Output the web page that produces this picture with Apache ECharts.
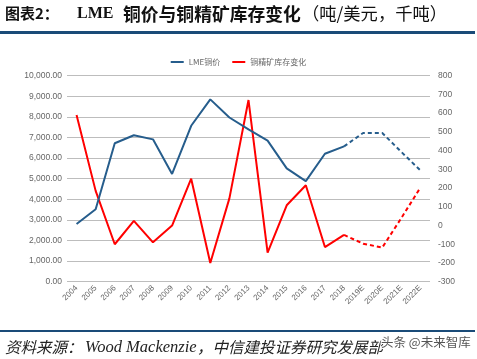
<!DOCTYPE html>
<html>
<head>
<meta charset="utf-8">
<script src="https://cdn.jsdelivr.net/npm/echarts@6/dist/echarts.min.js"></script>
<style>
html,body{margin:0;padding:0;background:#fff;}
#c{width:477px;height:359px;}
</style>
</head>
<body>
<div id="c"></div>
<script>
var categories = ['2004','2005','2006','2007','2008','2009','2010','2011','2012','2013','2014','2015','2016','2017','2018','2019E','2020E','2021E','2022E'];
var lmePrice = [2800,3520,6720,7110,6910,5230,7570,8850,7970,7390,6850,5500,4880,6210,6570,7220,7220,6300,5400];
var concInventoryChange = [590,185,-100,25,-90,0,250,-200,145,670,-145,108,215,-115,-50,-97,-118,40,203];
var leftTicks = {min:0, max:10000, interval:1000};
var rightTicks = {min:-300, max:800, interval:100};
var forecastStart = 14; // index of 2018, last actual

function solidPart(arr){ return arr.map(function(v,i){ return i<=forecastStart ? v : null; }); }
function dashPart(arr){ return arr.map(function(v,i){ return i>=forecastStart ? v : null; }); }

var blue = '#265d8c';
var red = '#ff0000';
var chart = echarts.init(document.getElementById('c'));
chart.setOption({
  animation:false,
  backgroundColor:'#fff',
  grid:{left:67,right:47,top:75.7,bottom:77.3,containLabel:false},
  legend:{
    top:53, left:'center',
    itemWidth:13, itemHeight:2, itemGap:12,
    icon:'rect',
    data:['LME铜价','铜精矿库存变化'],
    textStyle:{fontSize:8,color:'#666',fontFamily:'Noto Sans CJK SC'}
  },
  xAxis:{
    type:'category', data:categories, boundaryGap:true,
    axisLine:{show:false}, axisTick:{show:false},
    axisLabel:{rotate:45, fontSize:8, color:'#666', margin:5, interval:0, fontFamily:'Liberation Sans'}
  },
  yAxis:[
    {type:'value', min:leftTicks.min, max:leftTicks.max, interval:leftTicks.interval,
     axisLine:{show:false}, axisTick:{show:false},
     splitLine:{lineStyle:{color:'#bdbdbd',width:1}},
     axisLabel:{fontSize:8.5,color:'#666',margin:5,fontFamily:'Liberation Sans',
       formatter:function(v){return v.toLocaleString('en-US',{minimumFractionDigits:2,maximumFractionDigits:2});}}},
    {type:'value', min:rightTicks.min, max:rightTicks.max, interval:rightTicks.interval,
     axisLine:{show:false}, axisTick:{show:false}, splitLine:{show:false},
     axisLabel:{fontSize:8.5,color:'#666',margin:8,fontFamily:'Liberation Sans'}}
  ],
  series:[
    {name:'LME铜价', type:'line', data:solidPart(lmePrice), yAxisIndex:0, symbol:'none',
     lineStyle:{color:blue,width:2}, itemStyle:{color:blue}, z:3},
    {name:'铜精矿库存变化', type:'line', data:solidPart(concInventoryChange), yAxisIndex:1, symbol:'none',
     lineStyle:{color:red,width:2}, itemStyle:{color:red}, z:2},
    {name:'LME铜价E', type:'line', data:dashPart(lmePrice), yAxisIndex:0, symbol:'none',
     lineStyle:{color:blue,width:2,type:[4,3]}, itemStyle:{color:blue}, z:3},
    {name:'铜精矿库存变化E', type:'line', data:dashPart(concInventoryChange), yAxisIndex:1, symbol:'none',
     lineStyle:{color:red,width:2,type:[4,3]}, itemStyle:{color:red}, z:2}
  ],
  graphic:[
    {type:'text', left:5, top:6, style:{text:'图表2：', font:'bold 15px "Noto Sans CJK SC"', fill:'#111'}},
    {type:'text', left:77, top:6, style:{text:'LME', font:'bold 16px "Liberation Serif"', fill:'#111'}},
    {type:'text', left:123, top:5, style:{text:'铜价与铜精矿库存变化', font:'bold 17.8px "Noto Sans CJK SC"', fill:'#111'}},
    {type:'text', left:302, top:5, style:{text:'（吨/美元，千吨）', font:'17.3px "Noto Sans CJK SC"', fill:'#111'}},
    {type:'rect', shape:{x:0,y:31,width:475,height:3}, style:{fill:'#1a4b78'}},
    {type:'rect', shape:{x:0,y:330,width:475,height:2}, style:{fill:'#1a4b78'}},
    {type:'text', left:5, top:339, style:{text:'资料来源：', font:'italic 15.5px "Noto Sans CJK SC"', fill:'#222'}},
    {type:'text', left:85, top:339, style:{text:'Wood Mackenzie', font:'italic 16.5px "Liberation Serif"', fill:'#222'}},
    {type:'text', left:197, top:339, style:{text:'，中信建投证券研究发展部', font:'italic 15.5px "Noto Sans CJK SC"', fill:'#222'}},
    {type:'text', left:380, top:335, style:{text:'头条 @未来智库', font:'12.5px "Noto Sans CJK SC"', fill:'#555', stroke:'#fff', lineWidth:2}, z:100}
  ]
});
</script>
</body>
</html>
